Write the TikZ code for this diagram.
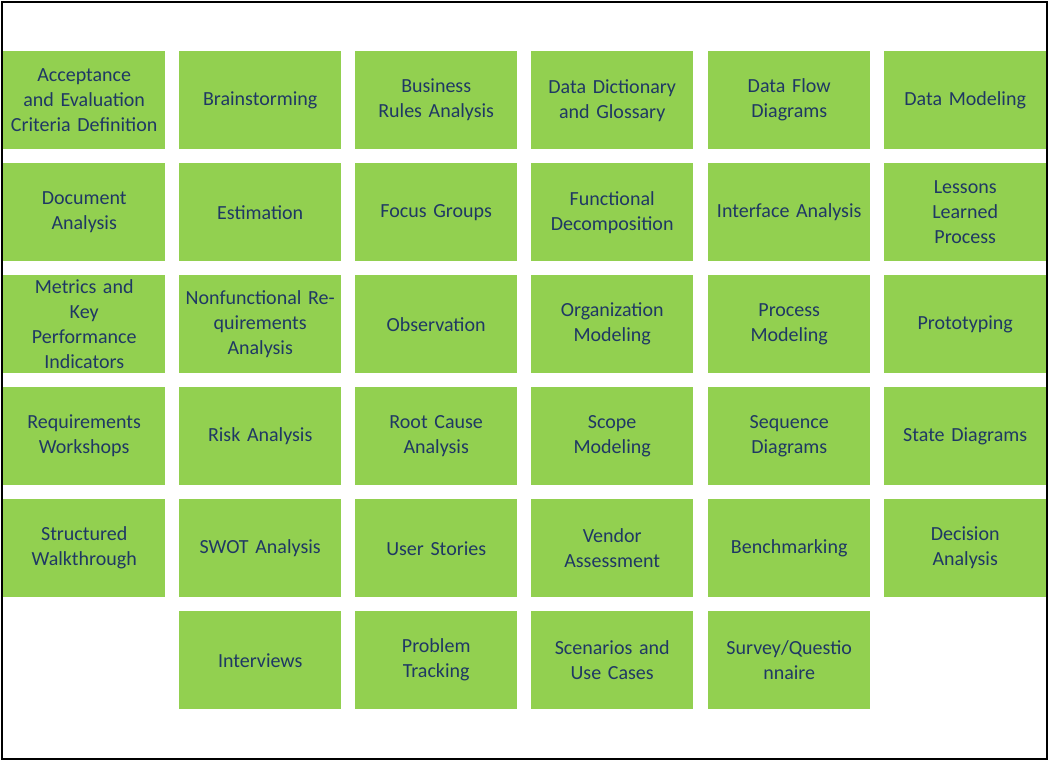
\documentclass[tikz,border=0pt]{standalone}
\usepackage{fontspec}
\setmainfont{Carlito}
\definecolor{boxgreen}{HTML}{92D050}
\definecolor{boxtext}{HTML}{1F3864}
\begin{document}
\begin{tikzpicture}[x=1pt,y=-1pt]
	\tikzset{tech/.style={inner sep=0pt,
	text width=150pt,
	minimum width=162pt,
	minimum height=98pt,
	fill=boxgreen,
	text=boxtext,
	align=center,
	font=\fontsize{20}{25}\selectfont,
	anchor=north west}}
	\draw[black,line width=1.5pt] (2,2) rectangle (1047,759);
	\useasboundingbox (0,0) rectangle (1050,761);
	% row 1
	\node[tech] (t11) at (3,51) {Acceptance and Evaluation Criteria Definition};
	\node[tech] (t12) at (179,51) {Brainstorming};
	\node[tech] (t13) at (355,51) {Business Rules Analysis};
	\node[tech] (t14) at (531,51) {Data Dictionary and Glossary};
	\node[tech] (t15) at (708,51) {Data Flow\\ Diagrams};
	\node[tech] (t16) at (884,51) {Data Modeling};
	% row 2
	\node[tech] (t21) at (3,163) {Document Analysis};
	\node[tech] (t22) at (179,163) {Estimation};
	\node[tech] (t23) at (355,163) {Focus Groups};
	\node[tech] (t24) at (531,163) {Functional Decomposition};
	\node[tech] (t25) at (708,163) {Interface Analysis};
	\node[tech] (t26) at (884,163) {Lessons\\ Learned\\ Process};
	% row 3
	\node[tech] (t31) at (3,275) {Metrics and\\ Key\\ Performance Indicators};
	\node[tech] (t32) at (179,275) {Nonfunctional Requirements Analysis};
	\node[tech] (t33) at (355,275) {Observation};
	\node[tech] (t34) at (531,275) {Organization Modeling};
	\node[tech] (t35) at (708,275) {Process\\ Modeling};
	\node[tech] (t36) at (884,275) {Prototyping};
	% row 4
	\node[tech] (t41) at (3,387) {Requirements Workshops};
	\node[tech] (t42) at (179,387) {Risk Analysis};
	\node[tech] (t43) at (355,387) {Root Cause\\ Analysis};
	\node[tech] (t44) at (531,387) {Scope\\ Modeling};
	\node[tech] (t45) at (708,387) {Sequence\\ Diagrams};
	\node[tech] (t46) at (884,387) {State Diagrams};
	% row 5
	\node[tech] (t51) at (3,499) {Structured Walkthrough};
	\node[tech] (t52) at (179,499) {SWOT Analysis};
	\node[tech] (t53) at (355,499) {User Stories};
	\node[tech] (t54) at (531,499) {Vendor\\ Assessment};
	\node[tech] (t55) at (708,499) {Benchmarking};
	\node[tech] (t56) at (884,499) {Decision\\ Analysis};
	% row 6
	\node[tech] (t62) at (179,611) {Interviews};
	\node[tech] (t63) at (355,611) {Problem\\ Tracking};
	\node[tech] (t64) at (531,611) {Scenarios and Use Cases};
	\node[tech] (t65) at (708,611) {Survey/Questio\\ nnaire};
\end{tikzpicture}
\end{document}
